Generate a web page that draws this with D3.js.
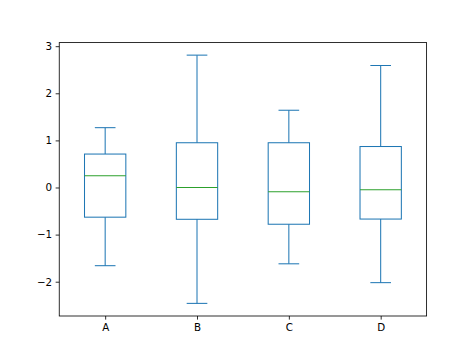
<!DOCTYPE html>
<html>
<head>
<meta charset="utf-8">
<script src="https://cdn.jsdelivr.net/npm/d3@7"></script>
<style>
  html, body { margin: 0; padding: 0; background: #fff; }
  svg { display: block; }
</style>
</head>
<body>
<svg id="chart" width="474" height="355"></svg>
<script>
const categories = ["A", "B", "C", "D"];
const whiskerLow  = [-1.66, -2.46, -1.62, -2.02];
const q1          = [-0.63, -0.675, -0.78, -0.67];
const median      = [0.25, 0.00, -0.09, -0.05];
const q3          = [0.71, 0.95, 0.95, 0.87];
const whiskerHigh = [1.27, 2.81, 1.64, 2.59];
const yTicks = [-2, -1, 0, 1, 2, 3];

(function () {
const W = 474, H = 355;
const pLeft = 59.25, pRight = 426.6, pTop = 42.6, pBottom = 316;
const svg = d3.select("#chart");

const x = d3.scaleLinear().domain([0.5, 4.5]).range([pLeft, pRight]);
const y = d3.scaleLinear().domain([-2.728, 3.076]).range([pBottom, pTop]);

const blue = "#1f77b4", green = "#2ca02c";
const boxW = 0.45, capW = boxW / 2;
const lw = 1.03;

const data = categories.map((c, i) => ({
  c, i, lo: whiskerLow[i], q1: q1[i], med: median[i], q3: q3[i], hi: whiskerHigh[i], pos: i + 1
}));

const g = svg.append("g");
data.forEach(d => {
  const gg = g.append("g");
  gg.append("line").attr("x1", x(d.pos)).attr("x2", x(d.pos))
    .attr("y1", y(d.q1)).attr("y2", y(d.lo)).attr("stroke", blue).attr("stroke-width", lw);
  gg.append("line").attr("x1", x(d.pos)).attr("x2", x(d.pos))
    .attr("y1", y(d.q3)).attr("y2", y(d.hi)).attr("stroke", blue).attr("stroke-width", lw);
  gg.append("line").attr("x1", x(d.pos - capW / 2)).attr("x2", x(d.pos + capW / 2))
    .attr("y1", y(d.lo)).attr("y2", y(d.lo)).attr("stroke", blue).attr("stroke-width", lw);
  gg.append("line").attr("x1", x(d.pos - capW / 2)).attr("x2", x(d.pos + capW / 2))
    .attr("y1", y(d.hi)).attr("y2", y(d.hi)).attr("stroke", blue).attr("stroke-width", lw);
  gg.append("rect").attr("x", x(d.pos - boxW / 2)).attr("width", x(d.pos + boxW / 2) - x(d.pos - boxW / 2))
    .attr("y", y(d.q3)).attr("height", y(d.q1) - y(d.q3))
    .attr("fill", "none").attr("stroke", blue).attr("stroke-width", lw);
  gg.append("line").attr("x1", x(d.pos - boxW / 2)).attr("x2", x(d.pos + boxW / 2))
    .attr("y1", y(d.med)).attr("y2", y(d.med)).attr("stroke", green).attr("stroke-width", lw);
});

svg.append("rect").attr("x", pLeft).attr("y", pTop).attr("width", pRight - pLeft).attr("height", pBottom - pTop)
  .attr("fill", "none").attr("stroke", "#000").attr("stroke-width", 0.82);

const fmt = v => (v < 0 ? "\u2212" + Math.abs(v) : String(v));
const font = "DejaVu Sans, sans-serif";

const yAxis = d3.axisLeft(y).tickValues(yTicks).tickFormat(fmt).tickSize(3.6).tickPadding(3.6);
const ya = svg.append("g").attr("transform", `translate(${pLeft},0)`).call(yAxis);
ya.select(".domain").remove();
ya.selectAll(".tick line").attr("stroke", "#000").attr("stroke-width", 0.82);
ya.selectAll(".tick text").attr("font-family", font).attr("font-size", 10.3).attr("fill", "#000");

const xAxis = d3.axisBottom(x).tickValues(data.map(d => d.pos)).tickFormat((v, i) => categories[i]).tickSize(3.6).tickPadding(3.6);
const xa = svg.append("g").attr("transform", `translate(0,${pBottom})`).call(xAxis);
xa.select(".domain").remove();
xa.selectAll(".tick line").attr("stroke", "#000").attr("stroke-width", 0.82);
xa.selectAll(".tick text").attr("font-family", font).attr("font-size", 10.3).attr("fill", "#000");
})();
</script>
</body>
</html>
